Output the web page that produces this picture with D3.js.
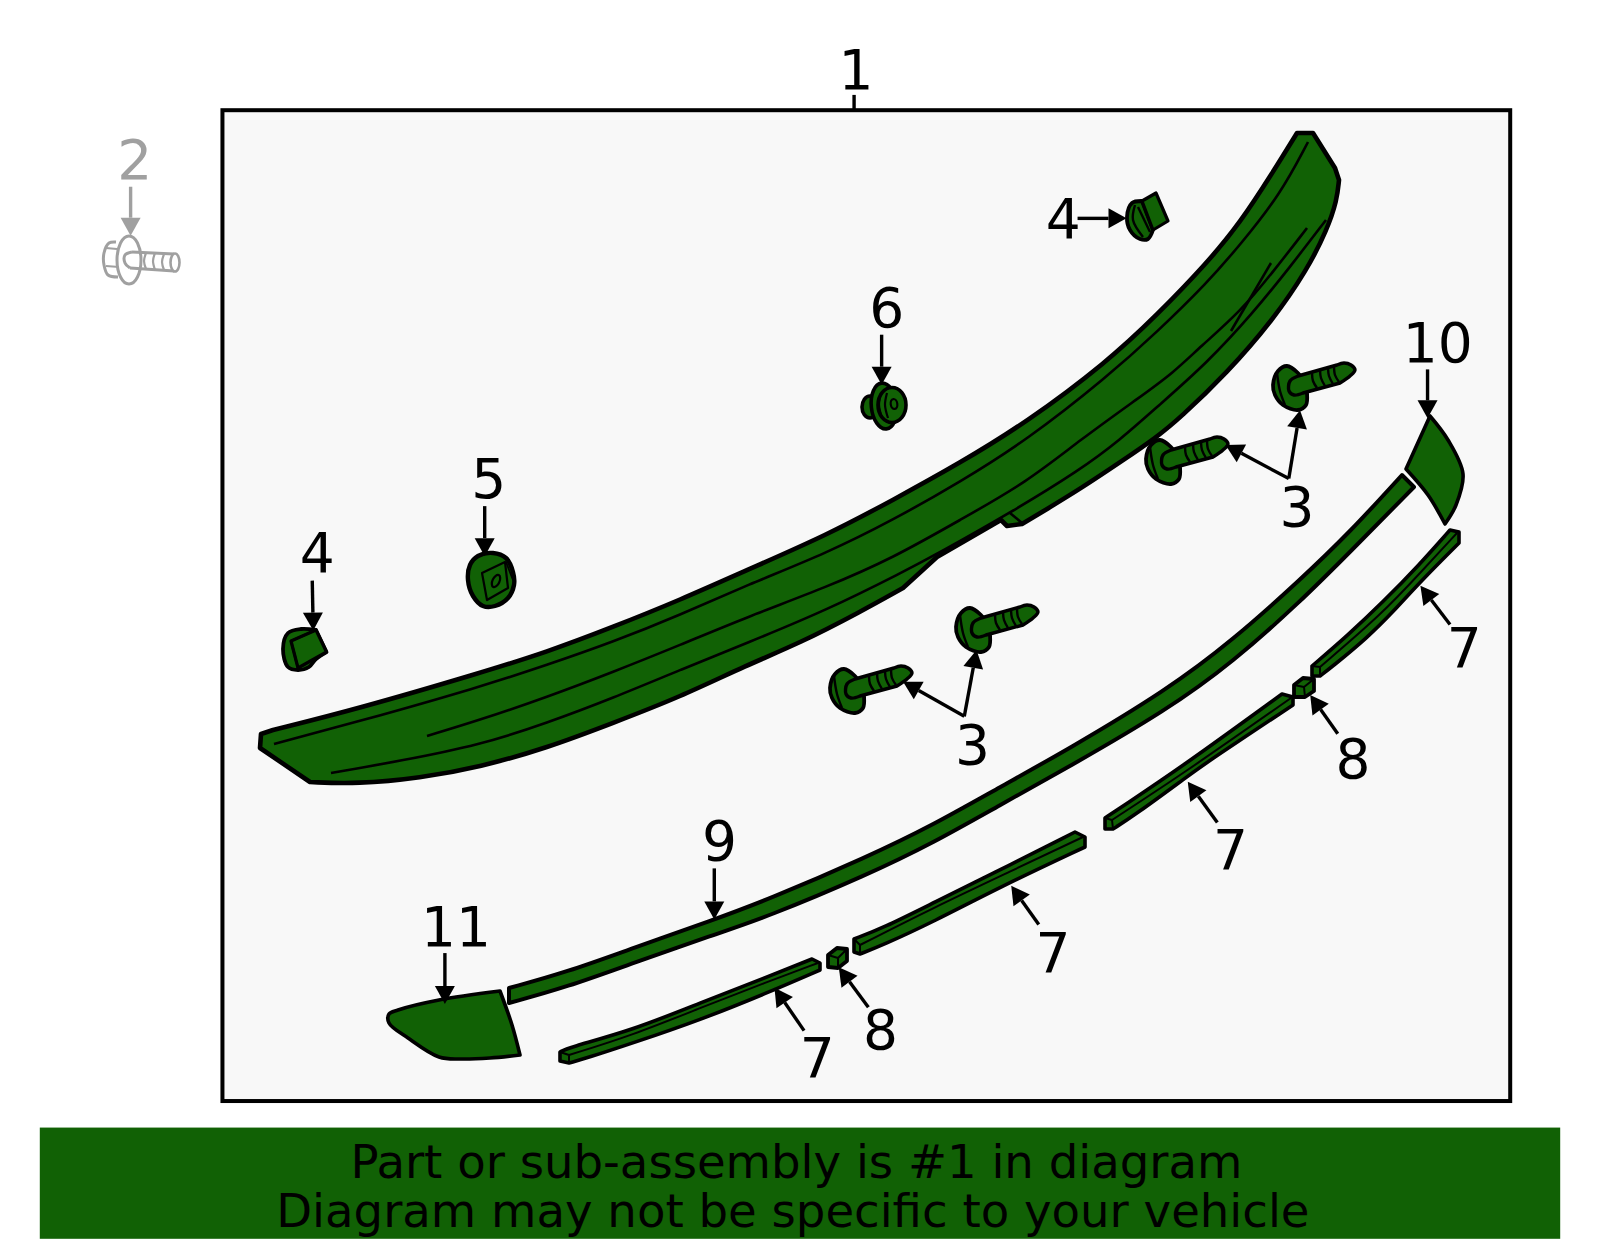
<!DOCTYPE html>
<html><head><meta charset="utf-8">
<script src="https://cdn.jsdelivr.net/npm/d3@7"></script>
<style>html,body{margin:0;padding:0;background:#fff}svg{display:block}text{font-family:"DejaVu Sans"}</style>
</head><body><svg id="c" width="1600" height="1249"></svg>
<script>
// Labels, arrows and frame are in reference picture units (1568 x 1224); part outlines are in reference pixels.
const frame = [218, 108, 1480, 1079];
const banner = [39, 1105, 1529, 1214];
const bannerLines = [["Part or sub-assembly is #1 in diagram", 780.5, 1154], ["Diagram may not be specific to your vehicle", 777, 1202]];
const labels = [["1",839,87],["4",1042,233],["6",869,320],["10",1409,355],["3",1271,515],["5",479,488],["4",311,561],["3",953,749],["9",705,843],["11",447,927],["7",801,1055],["7",1032,953],["7",1206,852],["7",1435,654],["8",863,1028],["8",1326,762]];
const grayLabels = [["2",132,175]];
const arrows = [[1056,214,1104,214],[306,569,307,618],[475,496,475,545],[864,328,864,377],[1399,362,1399,410],[1263,469,1201,436],[1263,469,1274,402],[945,702,885,668],[945,702,957,637],[700,851,700,901],[436,934,436,984],[788,1010,759,968],[1018,906,991,868],[1193,806,1164,766],[1421,612,1392,574],[851,987,822,948],[1311,719,1284,681]];
const grayArrows = [[128,183,128,231]];
const ticks = [[837,93,837,108]];

const spoilerTop = [[273,730],[357,709],[480,673],[547,652],[613,627],[680,600],[747,570],[827,535],[893,500],[960,463],[1027,422],[1107,362],[1157,315],[1207,263],[1240,223],[1273,172],[1297,133]];
const spoilerTip = [[1297,133],[1313,133],[1335,168],[1339,180]];
const spoilerBottom = [[1339,180],[1337,200],[1327,230],[1307,270],[1273,320],[1227,373],[1180,418],[1157,437],[1122,461],[1080,489],[1047,509],[1022,524]];
const spoilerNotch = [[1022,524],[1007,526],[1001,520],[937,557],[903,588]];
const spoilerLow = [[903,588],[860,612],[800,643],[747,665],[680,697],[613,723],[547,748],[480,767],[420,778],[357,784],[310,782]];
const spoilerCorner = [[310,782],[260,748],[261,734],[273,730]];
const lineA = [[274,744],[357,722],[480,687],[547,665],[613,642],[680,615],[747,585],[827,553],[893,520],[960,482],[1027,440],[1107,377],[1157,332],[1207,283],[1240,245],[1280,195],[1308,142]];
const lineB = [[427,736],[480,720],[547,697],[613,672],[680,645],[747,617],[827,587],[893,558],[960,520],[1027,482],[1080,440],[1140,397],[1173,373],[1200,347],[1240,312],[1273,272],[1307,228]];
const lineC = [[331,773],[400,761],[480,745],[547,723],[613,698],[680,670],[747,643],[827,610],[903,572],[937,554],[1010,513],[1080,470],[1120,440],[1157,407],[1207,363],[1253,313],[1290,267],[1326,220]];
const lineShort = [[1231,331],[1271,263]];
const lineNotch = [[1010,513],[1022,523]];

const strip9Top = [[509,988],[567,972],[633,948],[713,920],[767,900],[867,857],[933,825],[1000,787],[1067,750],[1167,690],[1233,640],[1300,580],[1350,532],[1402,475]];
const strip9Bottom = [[1414,487],[1350,552],[1300,602],[1233,662],[1167,710],[1067,768],[1000,805],[933,843],[867,875],[767,917],[713,935],[633,963],[567,987],[509,1003]];
const part10Edge = [[1406,469],[1428,495],[1445,524]];
const part10Outer = [[1445,524],[1456,505],[1463,474],[1448,440],[1430,416]];
const part11Bottom = [[520,1055],[490,1058],[460,1059],[439,1057],[408,1038],[389,1023],[389,1014],[398,1010],[439,1000],[500,991]];
const part11Side = [[500,991],[512,1025],[520,1055]];

const moulding7 = [
  {top:[[560,1052],[567,1048],[633,1030],[700,1003],[767,977],[812,959]],cap:[[812,959],[820,963],[820,970]],bottom:[[820,970],[767,993],[700,1020],[633,1043],[587,1058],[569,1063]],end:[[569,1063],[560,1061],[560,1052]],inner:[[569,1055],[633,1035],[700,1008],[767,982],[818,963]],facet:[[560,1052],[569,1055],[569,1063]]},
  {top:[[854,939],[883,928],[933,903],[1000,870],[1075,832]],cap:[[1075,832],[1085,837],[1085,847]],bottom:[[1085,847],[1000,887],[933,922],[883,945],[860,954]],end:[[860,954],[854,952],[854,939]],inner:[[860,945],[933,908],[1007,873],[1083,837]],facet:[[854,939],[860,945],[860,954]]},
  {top:[[1105,818],[1120,808],[1183,766],[1282,694]],cap:[[1282,694],[1293,697],[1293,705]],bottom:[[1293,705],[1210,760],[1188,776],[1135,815],[1113,829]],end:[[1113,829],[1105,829],[1105,818]],inner:[[1112,820],[1186,771],[1291,698]],facet:[[1105,818],[1112,820],[1113,829]]},
  {top:[[1312,666],[1347,636],[1383,602],[1420,564],[1450,530]],cap:[[1450,530],[1459,532],[1459,543]],bottom:[[1459,543],[1420,582],[1393,612],[1367,638],[1333,666],[1320,676]],end:[[1320,676],[1312,676],[1312,666]],inner:[[1320,667],[1383,613],[1420,573],[1457,533]],facet:[[1312,666],[1320,667],[1320,676]]}
];
const block8 = [
  {hull:[[828,955],[837,948],[847,949],[847,961],[838,968],[828,967]],edges:[[[828,955],[838,958],[847,949]],[[838,958],[838,968]]]},
  {hull:[[1294,685],[1303,678],[1314,679],[1314,691],[1305,697],[1294,697]],edges:[[[1294,685],[1304,687],[1314,679]],[[1304,687],[1305,697]]]}
];
const clip4Upper = {square:[[1142,201],[1156,193],[1168,221],[1153,230]],head:[[1153,230],[1148,239],[1140,239],[1130,230],[1127,217],[1132,203],[1142,201]],inner:[[[1138,207],[1150,232]],[[1135,205],[1133,220],[1143,237]]]};
const clip4Lower = {square:[[291,641],[316,630],[326.5,652],[298,668]],head:[[326.5,652],[316,659],[309,667],[298,670],[288,667],[283,649],[288,633],[301,629],[316,630]],inner:[[[291,641],[316,630]],[[291,641],[298,668]]]};
const clip5Hull = [[470,565],[478,556],[493,553],[506,558],[513,572],[514,585],[508,598],[495,606],[483,606],[473,596],[468,580]];
const clip5Square = [[482,573],[505,562],[508,588],[487,600]];
const clip5Edge = [[506,562],[513,580]];
const clip5Hole = [496,581];
const nut6 = [[870,407,8,11,0],[884,406,12.7,23,-6],[892,405,14,17.5,0]];
const nutArcs = [[[881,393],[879,405],[882,418]],[[887,393],[885,405],[888,418]]];
const nutHole = [894,404,3.3,5,-8];

// Screw, relative to the head centre
const screwCentres = [[1290,388],[1163,462],[847,691],[973,630]];
const screwHead = [[-17,-3],[-12,-17],[-3,-22],[8,-15],[15,-5],[17,5],[16,17],[8,22],[-7,17],[-15,7]];
const screwShaftTop = [[8,-12],[47,-23]];
const screwTip = [[47,-23],[54,-25],[61,-23],[65,-18],[60,-12],[50,-5]];
const screwShaftBottom = [[50,-5],[13,5]];
const screwRing = [[13,5],[4,7],[-1,3],[0,-7],[8,-12]];
const screwLines = [[[-13,-15],[-10,3],[-5,17]],[[22,-15],[23,-7],[27,0]],[[30,-18],[31,-10],[35,-2]],[[38,-20],[39,-12],[43,-4]],[[44,-22],[45,-13],[49,-6]]];

// Grey bolt, relative to the washer centre
const boltCentre = [129,260];
const boltHex = [[-13,-18],[-20,-17],[-25,-7],[-25,5],[-21,15],[-11,17]];
const boltHexEdges = [[[-23,-12],[-12,-11]],[[-23,6],[-10,7]]];
const boltWasher = [0,0,12,24];
const boltShaftRing = [[3,-8],[-4,-5],[-4,3],[1,8]];
const boltShaftTop = [[3,-8],[45,-6]];
const boltShaftBottom = [[1,8],[45,11]];
const boltEnd = [46,2.5,4.5,9];
const boltThreads = [[[17,-7],[15,1],[17,9]],[[26,-7],[24,1],[26,10]],[[35,-6],[33,2],[35,10]]];

const GREEN="#116105", INK="#000", GREY="#a0a0a0";
const x=d3.scaleLinear().domain([0,1568]).range([0,1600]);
const y=d3.scaleLinear().domain([0,1224]).range([0,1249]);
const svg=d3.select("#c");
const P=p=>[x(p[0]),y(p[1])];
const cat=d3.line().curve(d3.curveCatmullRom.alpha(0.5));
const basis=d3.line().curve(d3.curveBasis);
const straight=d3.line();
const closedCurve=d3.line().curve(d3.curveCatmullRomClosed.alpha(0.5));
const seg=a=>(a.length>3?basis:a.length>2?cat:straight)(a);
const joined=(segs,close)=>segs.map((s,i)=>{const d=seg(s);return i?"L"+d.slice(1):d;}).join("")+(close?"Z":"");
const poly=a=>straight(a)+"Z";
const pairs=a=>a.slice(1).map((p,i)=>[a[i],p]);
function shape(d,o={}){return svg.append("path").attr("d",d).attr("fill",o.fill||"none").attr("stroke",o.stroke||INK).attr("stroke-width",o.w||3).attr("stroke-linejoin","round").attr("stroke-linecap",o.cap||"butt");}

// frame and banner
svg.append("rect").attr("x",x(frame[0])).attr("y",y(frame[1])).attr("width",x(frame[2])-x(frame[0])).attr("height",y(frame[3])-y(frame[1])).attr("fill","#f8f8f8").attr("stroke",INK).attr("stroke-width",4);
svg.append("rect").attr("x",x(banner[0])).attr("y",y(banner[1])).attr("width",x(banner[2])-x(banner[0])).attr("height",y(banner[3])-y(banner[1])).attr("fill",GREEN);
svg.selectAll(".bn").data(bannerLines).join("text").attr("class","bn").attr("x",d=>x(d[1])).attr("y",d=>y(d[2])).attr("text-anchor","middle").attr("font-size",46.6).attr("fill",INK).text(d=>d[0]);

// spoiler
shape(joined([spoilerTop,...pairs(spoilerTip),spoilerBottom,...pairs(spoilerNotch),spoilerLow,...pairs(spoilerCorner)],true),{fill:GREEN,w:4.6});
[lineA,lineB,lineC,lineShort,lineNotch].forEach(l=>shape(seg(l),{w:2.6}));

// strip 9, end pieces
shape(joined([strip9Top,strip9Bottom],true),{fill:GREEN,w:4});
shape(cat(part10Edge)+"L"+cat(part10Outer).slice(1)+"Z",{fill:GREEN,w:3.6});
shape(cat(part11Bottom)+"L"+cat(part11Side).slice(1)+"Z",{fill:GREEN,w:3.6});

// mouldings
moulding7.forEach(m=>{
  shape(joined([m.top,...pairs(m.cap),m.bottom,...pairs(m.end)],true),{fill:GREEN,w:3.6});
  shape(seg(m.inner),{w:2}); shape(straight(m.facet),{w:2});
});
block8.forEach(b=>{shape(poly(b.hull),{fill:GREEN,w:3.8}); b.edges.forEach(e=>shape(straight(e),{w:2}));});

// clips
[clip4Upper,clip4Lower].forEach(c=>{
  shape(cat(c.head)+"Z",{fill:GREEN,w:3.8});
  shape(poly(c.square),{fill:GREEN,w:3.2});
  c.inner.forEach(l=>shape(cat(l),{w:2.4}));
});
shape(closedCurve(clip5Hull),{fill:GREEN,w:4.4});
shape(poly(clip5Square),{w:2.2});
shape(straight(clip5Edge),{w:1.8});
svg.append("ellipse").attr("cx",clip5Hole[0]).attr("cy",clip5Hole[1]).attr("rx",3.5).attr("ry",6.5).attr("transform",`rotate(25 ${clip5Hole[0]} ${clip5Hole[1]})`).attr("fill","none").attr("stroke",INK).attr("stroke-width",2.2);
svg.selectAll(".nut").data(nut6).join("ellipse").attr("class","nut").attr("cx",d=>d[0]).attr("cy",d=>d[1]).attr("rx",d=>d[2]).attr("ry",d=>d[3]).attr("transform",d=>`rotate(${d[4]} ${d[0]} ${d[1]})`).attr("fill",GREEN).attr("stroke",INK).attr("stroke-width",3.6);
nutArcs.forEach(a=>shape(cat(a),{w:2.2}));
svg.append("ellipse").attr("cx",nutHole[0]).attr("cy",nutHole[1]).attr("rx",nutHole[2]).attr("ry",nutHole[3]).attr("transform",`rotate(${nutHole[4]} ${nutHole[0]} ${nutHole[1]})`).attr("fill","none").attr("stroke",INK).attr("stroke-width",2.2);

// screws
screwCentres.forEach(c=>{
  const o=a=>a.map(p=>[c[0]+p[0],c[1]+p[1]]);
  shape(closedCurve(o(screwHead)),{fill:GREEN,w:3.8});
  const parts=[screwShaftTop,screwTip,screwShaftBottom,screwRing].map(o);
  shape(parts.map((s,i)=>{const d=(s.length>2?cat:straight)(s);return i?"L"+d.slice(1):d;}).join("")+"Z",{fill:GREEN,w:3.4});
  screwLines.forEach(l=>shape(cat(o(l)),{w:2.4}));
});

// grey bolt
{
  const o=a=>a.map(p=>[boltCentre[0]+p[0],boltCentre[1]+p[1]]);
  const g={stroke:GREY,w:3};
  shape(cat(o(boltHex)),{...g,fill:"#fff"});
  boltHexEdges.forEach(l=>shape(straight(o(l)),{stroke:GREY,w:2.2}));
  const [cx,cy]=boltCentre;
  svg.append("ellipse").attr("cx",cx+boltWasher[0]).attr("cy",cy+boltWasher[1]).attr("rx",boltWasher[2]).attr("ry",boltWasher[3]).attr("fill","#fff").attr("stroke",GREY).attr("stroke-width",3);
  shape(cat(o(boltShaftRing)),g);
  shape(straight(o(boltShaftTop)),g); shape(straight(o(boltShaftBottom)),g);
  svg.append("ellipse").attr("cx",cx+boltEnd[0]).attr("cy",cy+boltEnd[1]).attr("rx",boltEnd[2]).attr("ry",boltEnd[3]).attr("fill","#fff").attr("stroke",GREY).attr("stroke-width",2.6);
  boltThreads.forEach(l=>shape(cat(o(l)),{stroke:GREY,w:2.2}));
}

// arrows, ticks and labels
function arrow(a,color){
  const t=P([a[0],a[1]]),h=P([a[2],a[3]]);
  const ang=Math.atan2(h[1]-t[1],h[0]-t[0]),L=18,W=10;
  const b=[h[0]-L*Math.cos(ang),h[1]-L*Math.sin(ang)];
  const nx=-Math.sin(ang),ny=Math.cos(ang);
  shape(straight([t,b]),{stroke:color,w:3.4});
  svg.append("path").attr("d",poly([h,[b[0]+W*nx,b[1]+W*ny],[b[0]-W*nx,b[1]-W*ny]])).attr("fill",color);
}
arrows.forEach(a=>arrow(a,INK));
grayArrows.forEach(a=>arrow(a,GREY));
ticks.forEach(a=>shape(straight([P([a[0],a[1]]),P([a[2],a[3]])]),{w:3.4}));
const lab=(data,color,c)=>svg.selectAll("."+c).data(data).join("text").attr("class",c).attr("x",d=>x(d[1])).attr("y",d=>y(d[2])).attr("text-anchor","middle").attr("font-size",55).attr("fill",color).text(d=>d[0]);
lab(labels,INK,"lb"); lab(grayLabels,GREY,"gl");
</script></body></html>
